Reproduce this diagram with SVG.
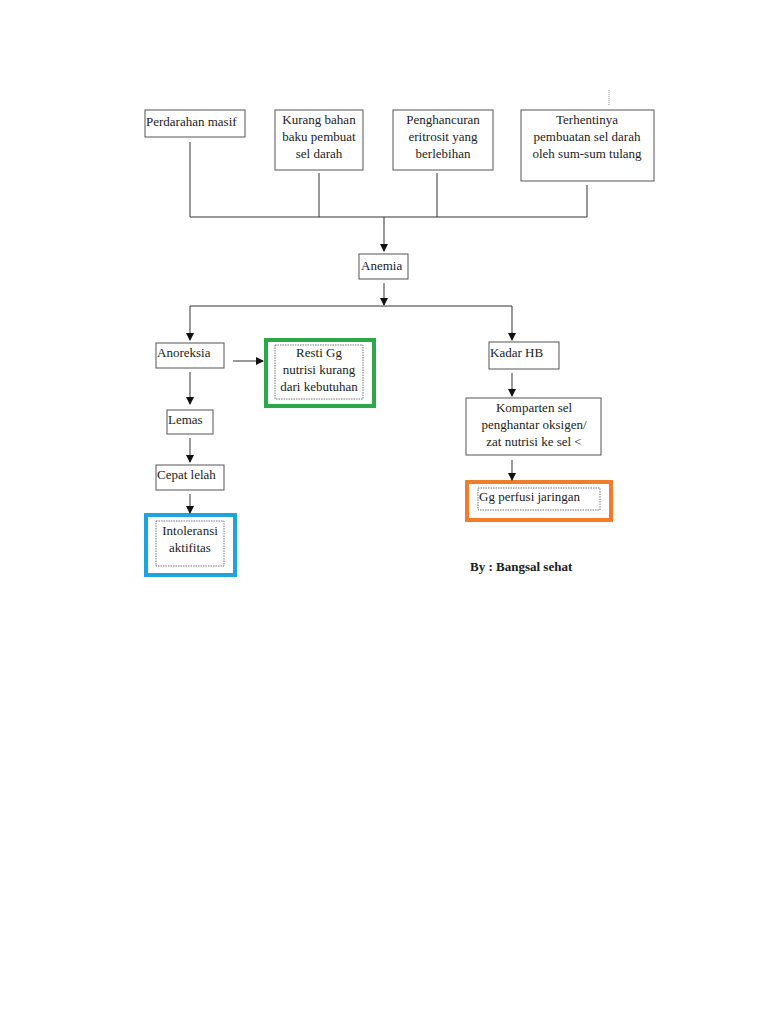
<svg xmlns="http://www.w3.org/2000/svg" width="768" height="1024" viewBox="0 0 768 1024">
<style>
text{font-family:"Liberation Serif",serif;font-size:13px;fill:#222}
.b{fill:#fff;stroke:#555;stroke-width:1}
.d{fill:none;stroke:#777;stroke-width:1;stroke-dasharray:1.5 1}
.c line,.c path{stroke:#333;stroke-width:1;fill:none}
</style>
<defs><marker id="a" markerWidth="8" markerHeight="8" refX="7" refY="4" orient="auto" markerUnits="userSpaceOnUse"><path d="M0,0 L8,4 L0,8 Z" fill="#111"/></marker></defs>
<rect width="768" height="1024" fill="#fff"/>
<line x1="609" y1="90" x2="609" y2="105" stroke="#888" stroke-dasharray="1 1"/>
<g id="n1"><rect class="b" x="145" y="110" width="100" height="27"/><text x="146" y="126">Perdarahan masif</text></g>
<g id="n2"><rect class="b" x="275" y="110" width="88" height="60"/><text x="319" y="124" text-anchor="middle">Kurang bahan</text><text x="319" y="141" text-anchor="middle">baku pembuat</text><text x="319" y="158" text-anchor="middle">sel darah</text></g>
<g id="n3"><rect class="b" x="393" y="110" width="100" height="60"/><text x="443" y="124" text-anchor="middle">Penghancuran</text><text x="443" y="141" text-anchor="middle">eritrosit yang</text><text x="443" y="158" text-anchor="middle">berlebihan</text></g>
<g id="n4"><rect class="b" x="521" y="110" width="133" height="71"/><text x="587" y="124" text-anchor="middle">Terhentinya</text><text x="587" y="141" text-anchor="middle">pembuatan sel darah</text><text x="587" y="158" text-anchor="middle">oleh sum-sum tulang</text></g>
<g id="n5"><rect class="b" x="359" y="254" width="49" height="25"/><text x="361" y="270">Anemia</text></g>
<g id="n6"><rect class="b" x="156" y="343" width="68" height="25"/><text x="157" y="357">Anoreksia</text></g>
<g id="n7"><rect x="266" y="340" width="108" height="66" fill="#fff" stroke="#2aa84a" stroke-width="4"/><rect class="d" x="275" y="345" width="88" height="54"/><text x="319" y="357" text-anchor="middle">Resti Gg</text><text x="319" y="374" text-anchor="middle">nutrisi kurang</text><text x="319" y="391" text-anchor="middle">dari kebutuhan</text></g>
<g id="n8"><rect class="b" x="167" y="410" width="46" height="24"/><text x="168" y="424">Lemas</text></g>
<g id="n9"><rect class="b" x="156" y="465" width="68" height="25"/><text x="157" y="479">Cepat lelah</text></g>
<g id="n10"><rect x="146" y="515" width="89" height="60" fill="#fff" stroke="#1ea4dd" stroke-width="4"/><rect class="d" x="156" y="521" width="68" height="45"/><text x="190" y="535" text-anchor="middle">Intoleransi</text><text x="190" y="552" text-anchor="middle">aktifitas</text></g>
<g id="n11"><rect class="b" x="489" y="342" width="70" height="27"/><text x="490" y="357">Kadar HB</text></g>
<g id="n12"><rect class="b" x="466" y="398" width="135" height="57"/><text x="534" y="412" text-anchor="middle">Komparten sel</text><text x="534" y="429" text-anchor="middle">penghantar oksigen/</text><text x="534" y="446" text-anchor="middle">zat nutrisi ke sel &lt;</text></g>
<g id="n13"><rect x="467" y="482" width="144" height="38" fill="#fff" stroke="#f07d2a" stroke-width="4"/><rect class="d" x="478" y="488" width="122" height="22"/><text x="479" y="501">Gg perfusi jaringan</text></g>
<text x="470" y="571" style="font-weight:bold;font-size:13px">By : Bangsal sehat</text>
<g class="c" id="connectors">
<line x1="190" y1="142" x2="190" y2="217"/><line x1="319" y1="173" x2="319" y2="217"/><line x1="437" y1="173" x2="437" y2="217"/><line x1="587" y1="185" x2="587" y2="217"/>
<line x1="190" y1="217" x2="587" y2="217"/>
<line x1="384" y1="217" x2="384" y2="251" marker-end="url(#a)"/>
<line x1="384" y1="283" x2="384" y2="305" marker-end="url(#a)"/>
<line x1="190" y1="306" x2="512" y2="306"/>
<line x1="190" y1="306" x2="190" y2="340" marker-end="url(#a)"/>
<line x1="512" y1="306" x2="512" y2="340" marker-end="url(#a)"/>
<line x1="233" y1="361" x2="263" y2="361" marker-end="url(#a)"/>
<line x1="190" y1="372" x2="190" y2="404" marker-end="url(#a)"/>
<line x1="190" y1="438" x2="190" y2="462" marker-end="url(#a)"/>
<line x1="190" y1="494" x2="190" y2="513" marker-end="url(#a)"/>
<line x1="512" y1="373" x2="512" y2="396" marker-end="url(#a)"/>
<line x1="512" y1="460" x2="512" y2="480" marker-end="url(#a)"/>
</g>
</svg>
